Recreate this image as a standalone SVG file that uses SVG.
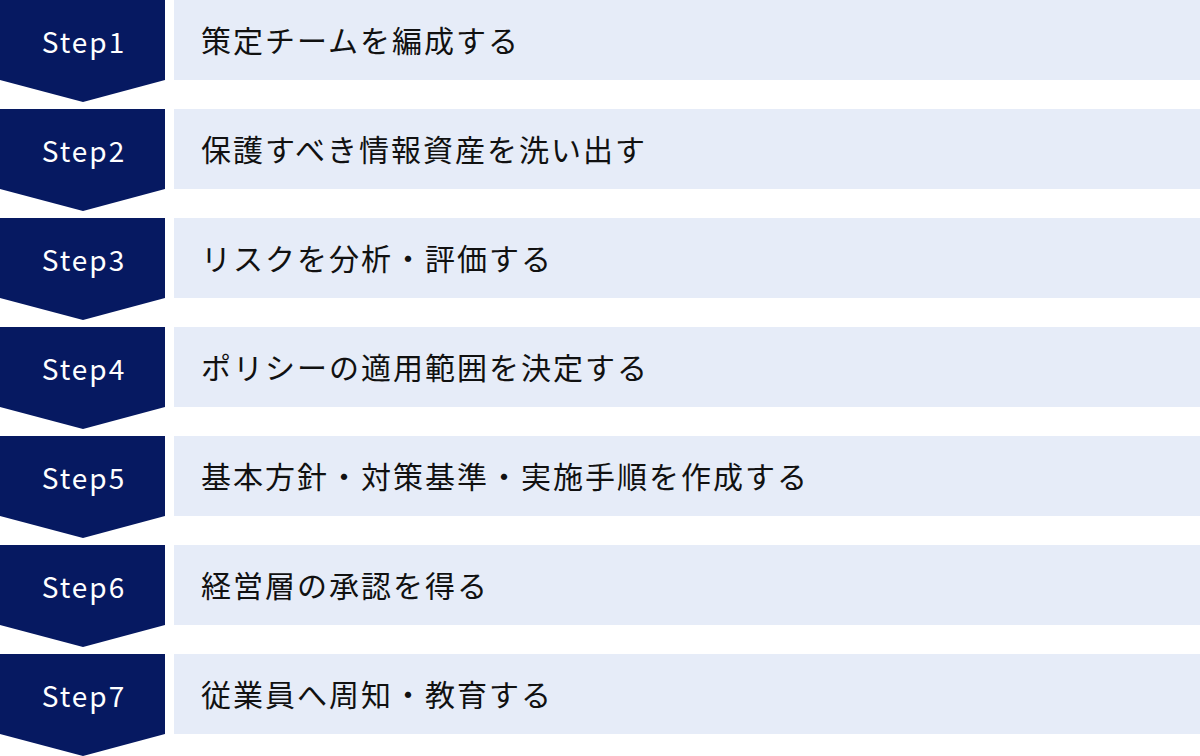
<svg xmlns="http://www.w3.org/2000/svg" width="1200" height="756" viewBox="0 0 1200 756">
<style>
.badge{fill:#061961}
.box{fill:#E6ECF8}
.step{font-family:"Noto Sans CJK JP",sans-serif;font-size:28px;fill:#FFFFFF;letter-spacing:2px;text-anchor:middle}
.label{font-family:"Noto Sans CJK JP",sans-serif;font-size:30px;fill:#111111;letter-spacing:2px}
</style>
<defs>
<path id="chev" d="M0 0H165V80L83 102L0 80Z"/>
</defs>
<rect width="1200" height="756" fill="#FFFFFF"/>
<g id="connectors"></g>
<g id="step1" transform="translate(0,0)">
<use href="#chev" class="badge"/><rect class="box" x="174" y="0" width="1026" height="80"/>
<text class="step" x="84" y="53">Step1</text><text class="label" x="201" y="52">策定チームを編成する</text>
</g>
<g id="step2" transform="translate(0,109)">
<use href="#chev" class="badge"/><rect class="box" x="174" y="0" width="1026" height="80"/>
<text class="step" x="84" y="53">Step2</text><text class="label" x="201" y="52">保護すべき情報資産を洗い出す</text>
</g>
<g id="step3" transform="translate(0,218)">
<use href="#chev" class="badge"/><rect class="box" x="174" y="0" width="1026" height="80"/>
<text class="step" x="84" y="53">Step3</text><text class="label" x="201" y="52">リスクを分析・評価する</text>
</g>
<g id="step4" transform="translate(0,327)">
<use href="#chev" class="badge"/><rect class="box" x="174" y="0" width="1026" height="80"/>
<text class="step" x="84" y="53">Step4</text><text class="label" x="201" y="52">ポリシーの適用範囲を決定する</text>
</g>
<g id="step5" transform="translate(0,436)">
<use href="#chev" class="badge"/><rect class="box" x="174" y="0" width="1026" height="80"/>
<text class="step" x="84" y="53">Step5</text><text class="label" x="201" y="52">基本方針・対策基準・実施手順を作成する</text>
</g>
<g id="step6" transform="translate(0,545)">
<use href="#chev" class="badge"/><rect class="box" x="174" y="0" width="1026" height="80"/>
<text class="step" x="84" y="53">Step6</text><text class="label" x="201" y="52">経営層の承認を得る</text>
</g>
<g id="step7" transform="translate(0,654)">
<use href="#chev" class="badge"/><rect class="box" x="174" y="0" width="1026" height="80"/>
<text class="step" x="84" y="53">Step7</text><text class="label" x="201" y="52">従業員へ周知・教育する</text>
</g>
</svg>
